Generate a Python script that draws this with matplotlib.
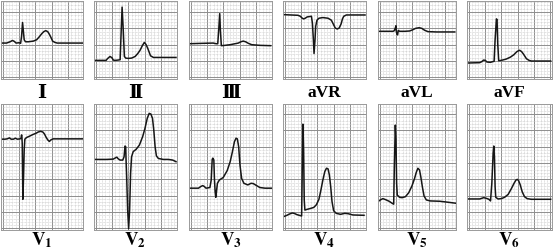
import numpy as np
import matplotlib
matplotlib.use("Agg")
import matplotlib.pyplot as plt

# ---------------- data (time in mm, amplitude in mm from panel bottom) ----------------
lead_names = ["Ⅰ", "Ⅱ", "Ⅲ", "aVR", "aVL", "aVF"]
chest_names = ["1", "2", "3", "4", "5", "6"]

I_x = [0.2, 1.7, 2.8, 3.5, 4.1, 4.6, 5.6, 6.0, 6.3, 6.6, 6.9, 7.1, 7.5, 8.4, 9.9, 10.9, 11.7, 12.5, 13.1, 13.7, 14.3, 14.8, 15.3, 15.8, 16.5, 17.2, 25.2]
I_y = [11.0, 11.0, 11.4, 11.8, 11.5, 11.0, 11.1, 10.9, 13.1, 17.3, 14.1, 12.0, 11.4, 11.4, 11.6, 12.0, 12.9, 13.9, 14.5, 14.8, 14.5, 13.7, 12.7, 11.6, 11.2, 11.0, 11.0]

II_x = [0.2, 3.7, 4.1, 4.9, 5.5, 5.9, 6.4, 7.4, 8.0, 8.3, 8.6, 8.9, 9.3, 9.7, 10.5, 11.5, 12.6, 13.4, 14.1, 14.8, 15.4, 15.9, 16.4, 16.9, 17.3, 18.2, 25.1]
II_y = [5.7, 5.7, 6.2, 6.9, 6.5, 5.8, 5.7, 5.8, 5.9, 14.1, 22.0, 16.1, 6.9, 6.4, 6.3, 6.4, 6.9, 7.8, 8.8, 10.2, 11.2, 10.6, 9.5, 8.2, 7.1, 6.6, 6.6]

III_x = [0.1, 3.4, 7.4, 8.3, 8.8, 9.1, 9.4, 9.6, 9.9, 11.0, 12.6, 13.6, 15.1, 15.9, 16.6, 17.3, 18.2, 19.2, 21.7, 25.0]
III_y = [10.8, 10.9, 11.0, 10.8, 10.8, 15.1, 20.0, 15.1, 10.2, 10.3, 10.5, 10.7, 11.0, 11.4, 11.6, 11.4, 10.9, 10.5, 10.3, 10.2]

aVR_x = [0.2, 4.6, 5.3, 5.9, 6.3, 6.8, 7.4, 8.7, 9.0, 9.3, 9.5, 9.8, 10.0, 10.4, 11.0, 12.2, 13.8, 14.8, 15.5, 16.0, 16.6, 17.2, 17.8, 18.2, 18.6, 19.4, 25.1]
aVR_y = [19.7, 19.5, 19.2, 18.6, 18.4, 18.6, 19.0, 19.2, 17.1, 12.0, 7.8, 12.0, 16.1, 18.0, 18.6, 18.8, 18.6, 18.0, 16.6, 15.6, 15.3, 15.6, 16.9, 18.4, 19.2, 19.6, 19.6]

aVL_x = [0.0, 4.6, 5.0, 5.3, 5.5, 5.6, 5.8, 6.0, 6.2, 6.6, 8.2, 9.7, 10.7, 11.5, 12.6, 13.4, 14.3, 15.3, 17.9, 23.5]
aVL_y = [14.6, 14.6, 14.8, 15.6, 16.3, 14.6, 13.7, 13.5, 14.9, 14.6, 14.6, 14.7, 15.1, 15.5, 15.7, 15.5, 14.9, 14.5, 14.4, 14.4]

aVF_x = [0.3, 3.9, 4.5, 5.1, 5.6, 6.1, 7.2, 7.8, 8.3, 8.6, 9.0, 9.2, 9.4, 9.7, 10.5, 12.0, 13.3, 14.3, 15.3, 16.1, 16.7, 17.3, 18.2, 19.0, 19.7, 25.6]
aVF_y = [4.9, 5.0, 5.3, 5.8, 5.7, 5.2, 5.1, 5.3, 5.4, 12.0, 18.4, 18.2, 11.0, 5.6, 5.7, 6.1, 6.7, 7.4, 8.4, 8.8, 8.4, 7.6, 6.2, 5.7, 5.5, 5.5]

V1_x = [0.0, 1.2, 1.9, 2.6, 3.1, 3.8, 4.4, 5.0, 5.8, 6.1, 6.3, 6.4, 6.5, 6.6, 6.7, 6.9, 7.1, 7.3, 7.8, 8.7, 9.7, 10.7, 11.4, 12.1, 12.8, 13.3, 13.8, 14.3, 14.8, 15.3, 16.0, 20.1, 25.0]
V1_y = [27.8, 27.8, 27.9, 28.2, 27.8, 27.8, 28.1, 27.8, 27.9, 28.0, 29.1, 28.4, 26.5, 17.3, 9.4, 16.3, 24.5, 27.8, 28.3, 28.7, 29.2, 29.6, 30.0, 30.2, 30.0, 29.4, 28.4, 27.6, 27.1, 27.6, 27.9, 27.9, 27.9]

V2_x = [0.2, 3.9, 5.9, 6.6, 7.0, 7.4, 8.0, 8.8, 9.2, 9.5, 9.7, 9.8, 10.0, 10.3, 10.6, 10.9, 11.2, 11.5, 12.0, 12.9, 13.9, 14.9, 15.6, 16.3, 16.9, 17.4, 17.9, 18.3, 18.7, 19.1, 19.7, 21.2, 22.8, 24.1, 25.1]
V2_y = [21.6, 21.6, 21.7, 22.1, 22.3, 21.8, 21.4, 21.4, 22.4, 25.7, 25.5, 21.9, 16.3, 6.1, 0.4, 6.1, 17.3, 22.4, 24.0, 24.7, 26.0, 28.6, 31.1, 34.2, 35.7, 35.5, 34.2, 30.6, 25.5, 22.7, 21.9, 21.6, 21.6, 21.4, 20.9]

V3_x = [0.0, 2.9, 3.6, 4.2, 4.7, 5.2, 6.4, 6.8, 7.1, 7.3, 7.6, 7.8, 8.0, 8.2, 8.4, 8.7, 9.3, 10.5, 11.7, 12.6, 13.3, 13.9, 14.4, 14.8, 15.2, 15.6, 16.1, 16.8, 18.0, 19.0, 19.7, 20.5, 21.7, 23.3, 25.3]
V3_y = [12.8, 12.8, 13.3, 13.6, 13.3, 12.8, 13.0, 15.3, 21.6, 22.0, 21.4, 15.3, 11.7, 10.0, 11.7, 14.3, 15.3, 16.1, 18.2, 20.9, 24.0, 27.0, 28.1, 27.9, 25.5, 19.9, 15.8, 14.3, 13.8, 14.3, 14.2, 13.7, 13.0, 12.8, 12.8]

V4_x = [0.2, 1.2, 2.0, 2.8, 3.4, 4.3, 5.3, 5.7, 5.9, 6.1, 6.3, 6.5, 6.7, 7.3, 8.4, 9.4, 10.2, 11.0, 11.6, 12.2, 12.8, 13.3, 13.8, 14.2, 14.6, 15.0, 15.5, 16.3, 17.6, 18.9, 19.9, 21.4, 24.8]
V4_y = [4.1, 4.5, 4.9, 5.2, 5.1, 4.7, 4.4, 4.3, 19.4, 32.4, 24.5, 9.2, 6.1, 6.3, 6.6, 6.9, 7.7, 9.4, 12.2, 15.3, 17.9, 18.9, 18.7, 16.8, 13.3, 8.7, 5.9, 5.1, 4.8, 5.1, 5.0, 4.6, 4.5]

V5_x = [0.0, 0.7, 1.5, 2.3, 3.4, 4.3, 4.8, 5.0, 5.3, 5.5, 5.7, 5.9, 6.6, 7.4, 8.4, 9.4, 10.4, 11.2, 11.7, 12.2, 12.7, 13.1, 13.6, 14.1, 14.8, 16.0, 18.9, 21.4, 23.8]
V5_y = [8.7, 9.2, 9.6, 9.3, 8.8, 8.2, 7.9, 19.4, 32.1, 27.6, 14.3, 10.7, 10.0, 9.9, 10.2, 11.4, 13.5, 15.8, 17.6, 18.9, 18.4, 16.3, 13.1, 10.4, 9.2, 8.9, 8.8, 8.5, 8.2]

V6_x = [0.3, 3.9, 4.5, 5.1, 5.9, 6.7, 7.2, 7.6, 8.0, 8.2, 8.4, 8.6, 8.8, 9.5, 10.5, 11.5, 12.6, 13.6, 14.4, 15.0, 15.4, 15.8, 16.3, 16.9, 17.6, 18.4, 19.7, 25.6]
V6_y = [9.5, 9.5, 9.7, 9.9, 9.7, 9.4, 8.9, 14.3, 23.5, 25.7, 22.4, 13.3, 10.0, 9.5, 9.6, 10.0, 10.9, 12.7, 14.3, 15.3, 15.5, 15.1, 13.8, 11.7, 10.2, 9.6, 9.4, 9.4]

top_traces = [(I_x, I_y), (II_x, II_y), (III_x, III_y), (aVR_x, aVR_y), (aVL_x, aVL_y), (aVF_x, aVF_y)]
bottom_traces = [(V1_x, V1_y), (V2_x, V2_y), (V3_x, V3_y), (V4_x, V4_y), (V5_x, V5_y), (V6_x, V6_y)]

# ---------------- layout (pixels) ----------------
W, H = 553, 250
DPI = 100
PX_PER_MM = 3.267
col_px = [(1, 83), (94, 177), (189, 272), (283, 366), (378, 456), (467, 552)]
top_row = (1, 79)
bot_row = (104, 230)

plt.rcParams["mathtext.fontset"] = "stix"
fig = plt.figure(figsize=(W / DPI, H / DPI), dpi=DPI)
fig.patch.set_facecolor("white")


def make_panel(x0, x1, y0, y1):
    ax = fig.add_axes([x0 / W, 1 - y1 / H, (x1 - x0) / W, (y1 - y0) / H])
    wmm = (x1 - x0) / PX_PER_MM
    hmm = (y1 - y0) / PX_PER_MM
    ax.set_xlim(0, wmm)
    ax.set_ylim(0, hmm)
    ax.set_xticks(np.arange(0.5, wmm, 5))
    ax.set_yticks(np.arange(0.5, hmm, 5))
    ax.set_xticks(np.arange(0.5, wmm, 1), minor=True)
    ax.set_yticks(np.arange(0.5, hmm, 1), minor=True)
    ax.grid(which="minor", color="#c8c8c8", lw=0.5, ls=(0, (1, 1)))
    ax.grid(which="major", color="#8e8e8e", lw=0.7, ls="-")
    ax.tick_params(which="both", length=0, labelbottom=False, labelleft=False)
    for s in ax.spines.values():
        s.set_color("#9a9a9a")
        s.set_linewidth(0.7)
    ax.set_axisbelow(True)
    return ax


for (x0, x1), (tx, ty), name in zip(col_px, top_traces, lead_names):
    ax = make_panel(x0, x1, *top_row)
    ax.plot(tx, ty, color="#161616", lw=1.1, solid_joinstyle="round")
    cx = (x0 + x1) / 2 / W
    if name.startswith("a"):
        fig.text(cx, 1 - 93 / H, name, ha="center", va="center", fontsize=12.5,
                 fontweight="bold", family=["Liberation Serif", "DejaVu Serif"])
    else:
        fig.text(cx, 1 - 93 / H, name, ha="center", va="center", fontsize=14,
                 fontweight="bold", family=["DejaVu Serif", "Noto Sans CJK SC"])

for (x0, x1), (tx, ty), n in zip(col_px, bottom_traces, chest_names):
    ax = make_panel(x0, x1, *bot_row)
    ax.plot(tx, ty, color="#161616", lw=1.1, solid_joinstyle="round")
    cx = (x0 + x1) / 2 / W
    fig.text(cx, 1 - 245.5 / H, r"$\mathbf{V}_{\mathbf{%s}}$" % n, ha="center", va="baseline",
             fontsize=13.5)

fig.savefig("out.png", dpi=DPI, facecolor="white")
